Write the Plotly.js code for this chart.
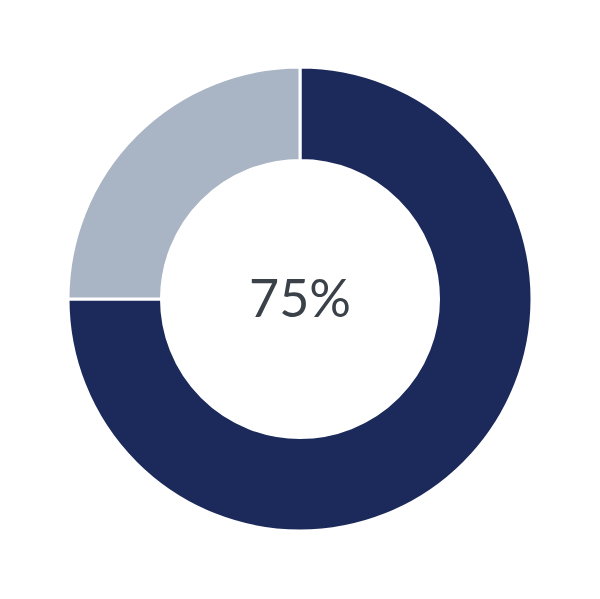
<!DOCTYPE html>
<html><head><meta charset="utf-8">
<script src="https://cdn.plot.ly/plotly-3.0.1.min.js"></script>
<style>html,body{margin:0;padding:0;background:#fff}</style>
</head><body><div id="chart" style="width:600px;height:599px"></div>
<script>
const labels = ["Complete", "Remaining"];
const values = [75, 25];
const colors = ["#1b2a5a", "#a9b4c4"];
const centerLabel = "75%";

Plotly.newPlot("chart", [{
  type: "pie",
  labels: labels,
  values: values,
  hole: 0.597,
  sort: false,
  direction: "clockwise",
  rotation: 0,
  textinfo: "none",
  hoverinfo: "none",
  marker: {colors: colors, line: {color: "#ffffff", width: 3}}
}], {
  width: 600, height: 599,
  margin: {l: 68, r: 68, t: 67, b: 68},
  showlegend: false,
  paper_bgcolor: "#ffffff",
  annotations: [{
    text: centerLabel, x: 0.5, y: 0.5, xref: "paper", yref: "paper",
    yshift: 2,
    showarrow: false, font: {family: "Lato", size: 52, color: "#3b4148"}
  }]
}, {displayModeBar: false, staticPlot: true});
</script></body></html>
